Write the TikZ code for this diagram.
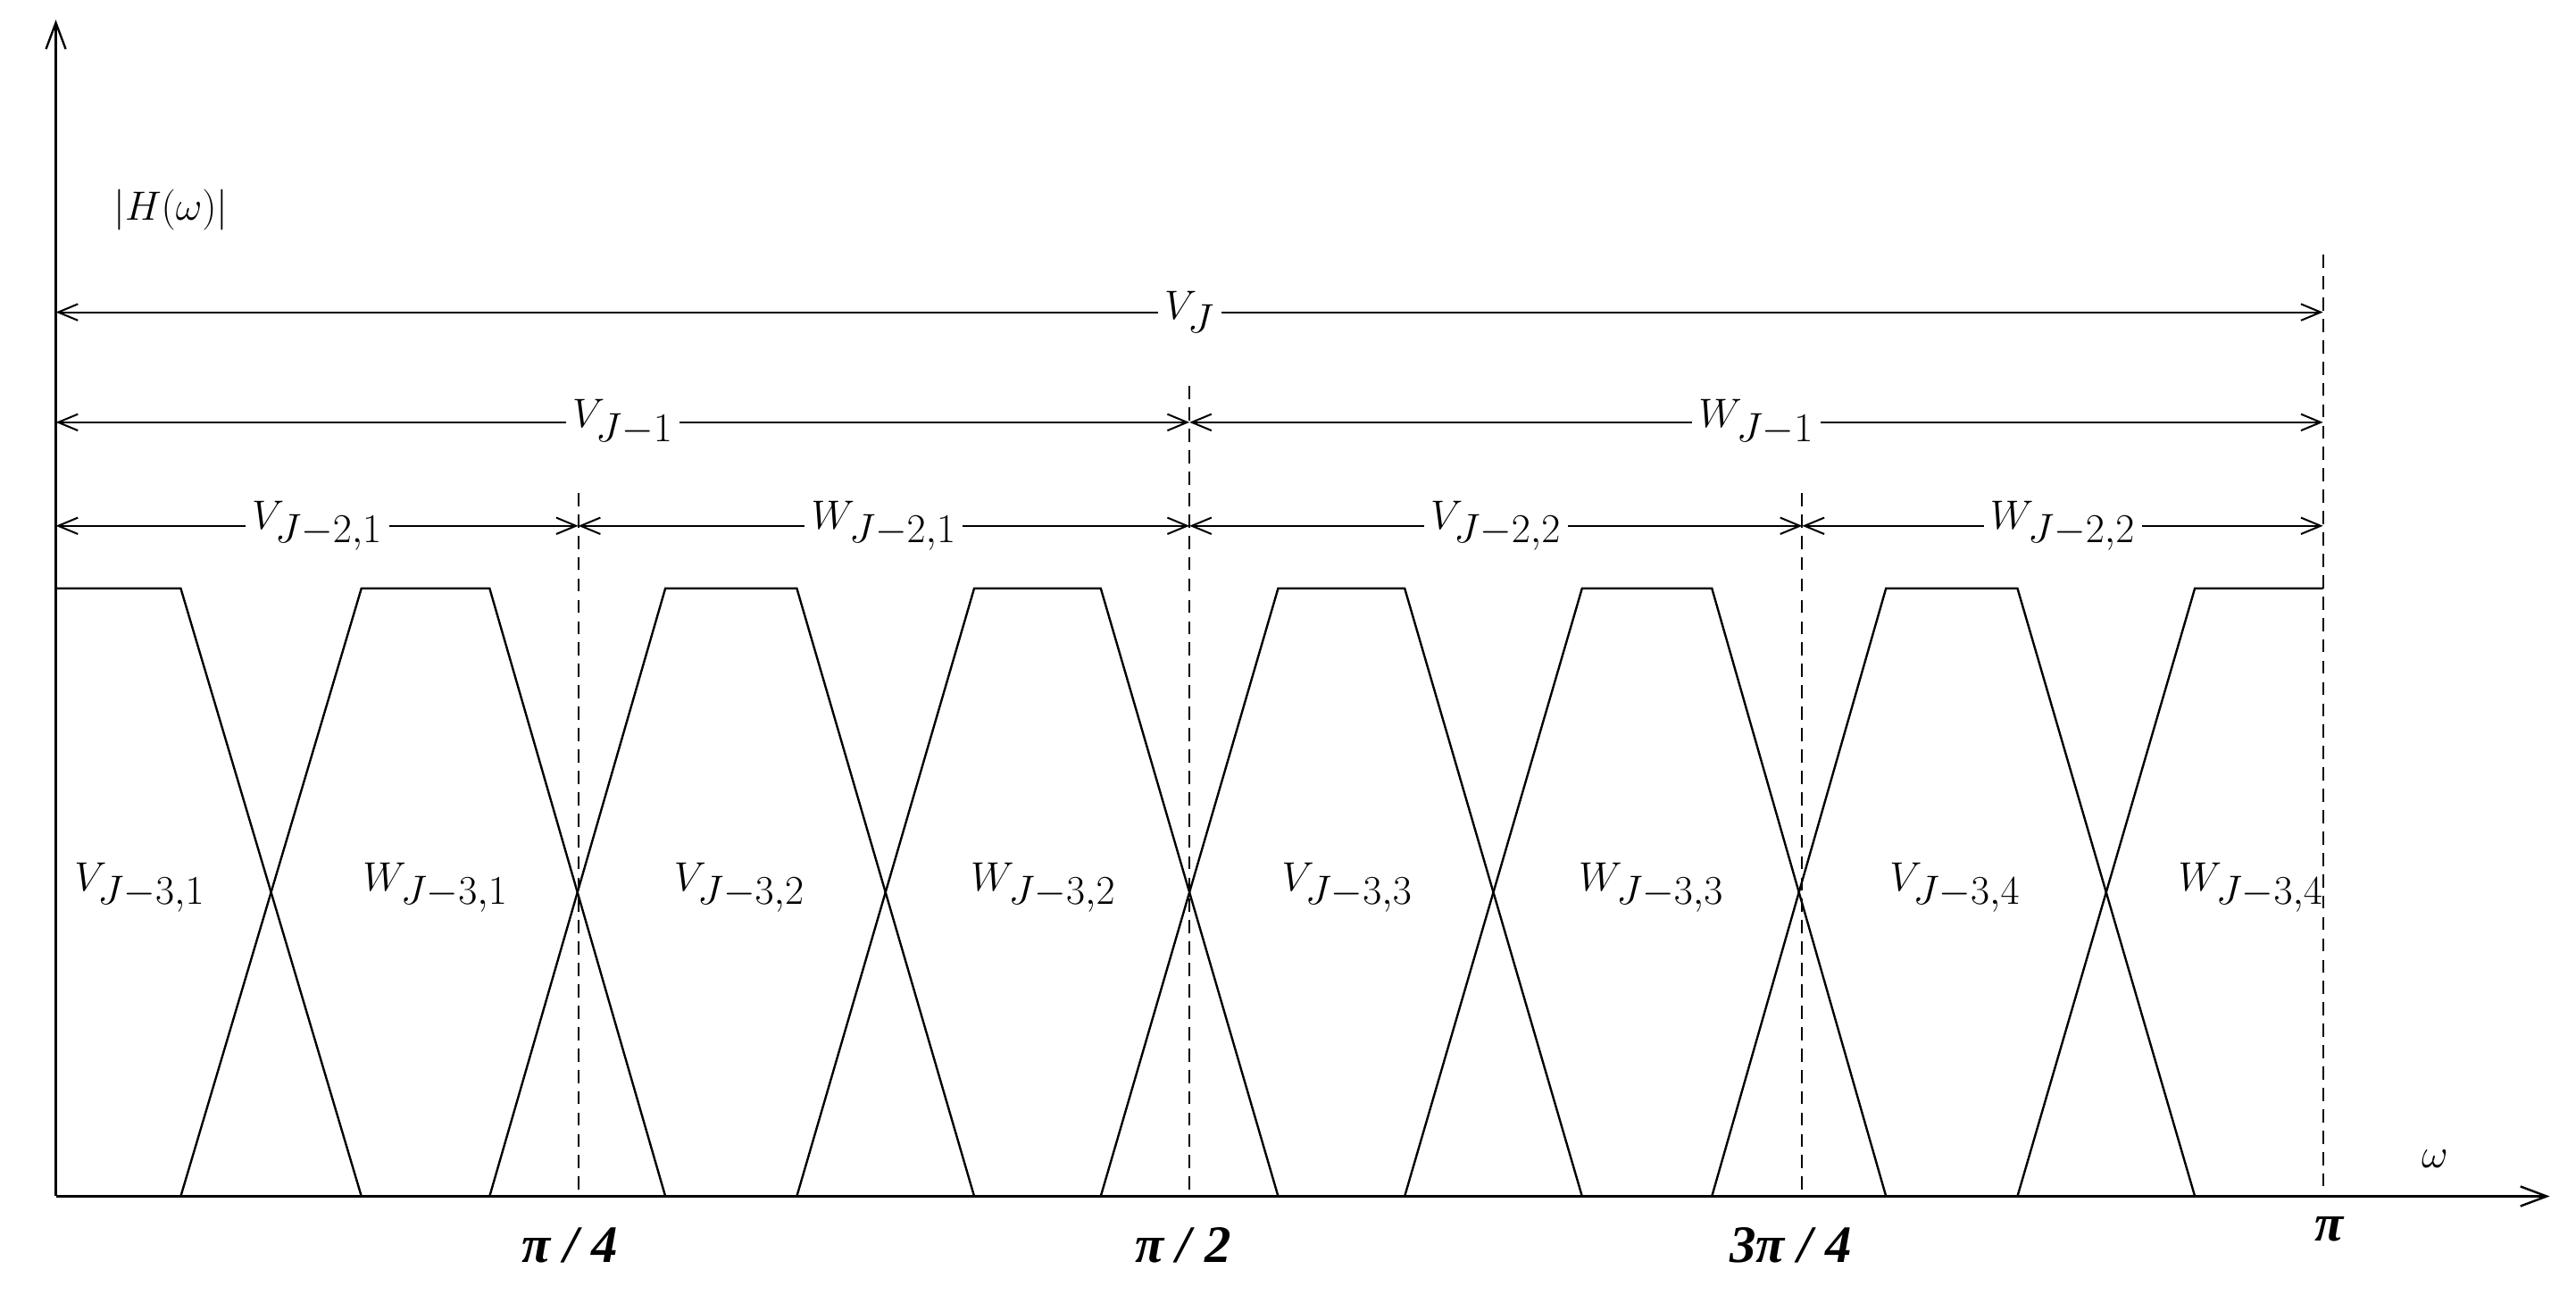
\documentclass[tikz,border=0pt]{standalone}
\usepackage{fontspec}
\setmainfont{Liberation Serif}
\usetikzlibrary{arrows.meta}
\begin{document}
\begin{tikzpicture}[x=1pt,y=-1pt,line width=1.3pt,
  dim/.style={{Straight Barb[length=12pt,width=10pt]}-{Straight Barb[length=12pt,width=10pt]},line width=1.1pt},
  lab/.style={fill=white,inner sep=4pt,font=\fontsize{38}{40}\selectfont\itshape},
  band/.style={font=\fontsize{38}{40}\selectfont\itshape},
  tick/.style={font=\fontsize{32}{34}\selectfont\bfseries\itshape},
  vd/.style={dashed,line width=1.1pt,dash pattern=on 8pt off 5pt}]
\useasboundingbox (0,0) rectangle (1568,788);
\coordinate (O) at (34,728);
\coordinate (Ytop) at (34,12);
\coordinate (Xend) at (1552,728);
\draw[-{Straight Barb[length=16pt,width=12pt]}] (O) -- (Ytop);
\draw[-{Straight Barb[length=16pt,width=12pt]}] (O) -- (Xend);
% dashed
\draw[vd] (352,300) -- (352,728);
\draw[vd] (724,235) -- (724,728);
\draw[vd] (1097,300) -- (1097,728);
\draw[vd] (1414,155) -- (1414,728);
% dims
\coordinate (a0) at (34,190); \coordinate (a1) at (1414,190);
\draw[dim] (a0) -- node[lab]{$V_J$} (a1);
\coordinate (b0) at (34,257); \coordinate (b1) at (724,257); \coordinate (b2) at (1414,257);
\draw[dim] (b0) -- node[lab]{$V_{J-1}$} (b1);
\draw[dim] (b1) -- node[lab]{$W_{J-1}$} (b2);
\coordinate (c0) at (34,320); \coordinate (c1) at (352,320); \coordinate (c2) at (724,320);
\coordinate (c3) at (1097,320); \coordinate (c4) at (1414,320);
\draw[dim] (c0) -- node[lab]{$V_{J-2,1}$} (c1);
\draw[dim] (c1) -- node[lab]{$W_{J-2,1}$} (c2);
\draw[dim] (c2) -- node[lab]{$V_{J-2,2}$} (c3);
\draw[dim] (c3) -- node[lab]{$W_{J-2,2}$} (c4);
% trapezoids
\draw (34,358)--(110,358)--(220,728);
\draw (110,728)--(220,358)--(298,358)--(405,728);
\draw (298,728)--(405,358)--(485,358)--(593,728);
\draw (485,728)--(593,358)--(670,358)--(778,728);
\draw (670,728)--(778,358)--(855,358)--(963,728);
\draw (855,728)--(963,358)--(1042,358)--(1148,728);
\draw (1042,728)--(1148,358)--(1228,358)--(1336,728);
\draw (1228,728)--(1336,358)--(1414,358);
% band labels
\node[band] (l1) at (85,540) {$V_{J-3,1}$};
\node[band] (l2) at (265,540) {$W_{J-3,1}$};
\node[band] (l3) at (450,540) {$V_{J-3,2}$};
\node[band] (l4) at (635,540) {$W_{J-3,2}$};
\node[band] (l5) at (820,540) {$V_{J-3,3}$};
\node[band] (l6) at (1005,540) {$W_{J-3,3}$};
\node[band] (l7) at (1190,540) {$V_{J-3,4}$};
\node[band] (l8) at (1370,540) {$W_{J-3,4}$};
% ticks
\node[tick] (t1) at (347,758) {π / 4};
\node[tick] (t2) at (720,758) {π / 2};
\node[tick] (t3) at (1090,758) {3π / 4};
\node[tick] (t4) at (1418,748) {π};
\node[band] (w) at (1482,705) {$\omega$};
\node[band] (H) at (104,128) {$\Bigl|H(\omega)\Bigr|$};
\end{tikzpicture}
\end{document}
